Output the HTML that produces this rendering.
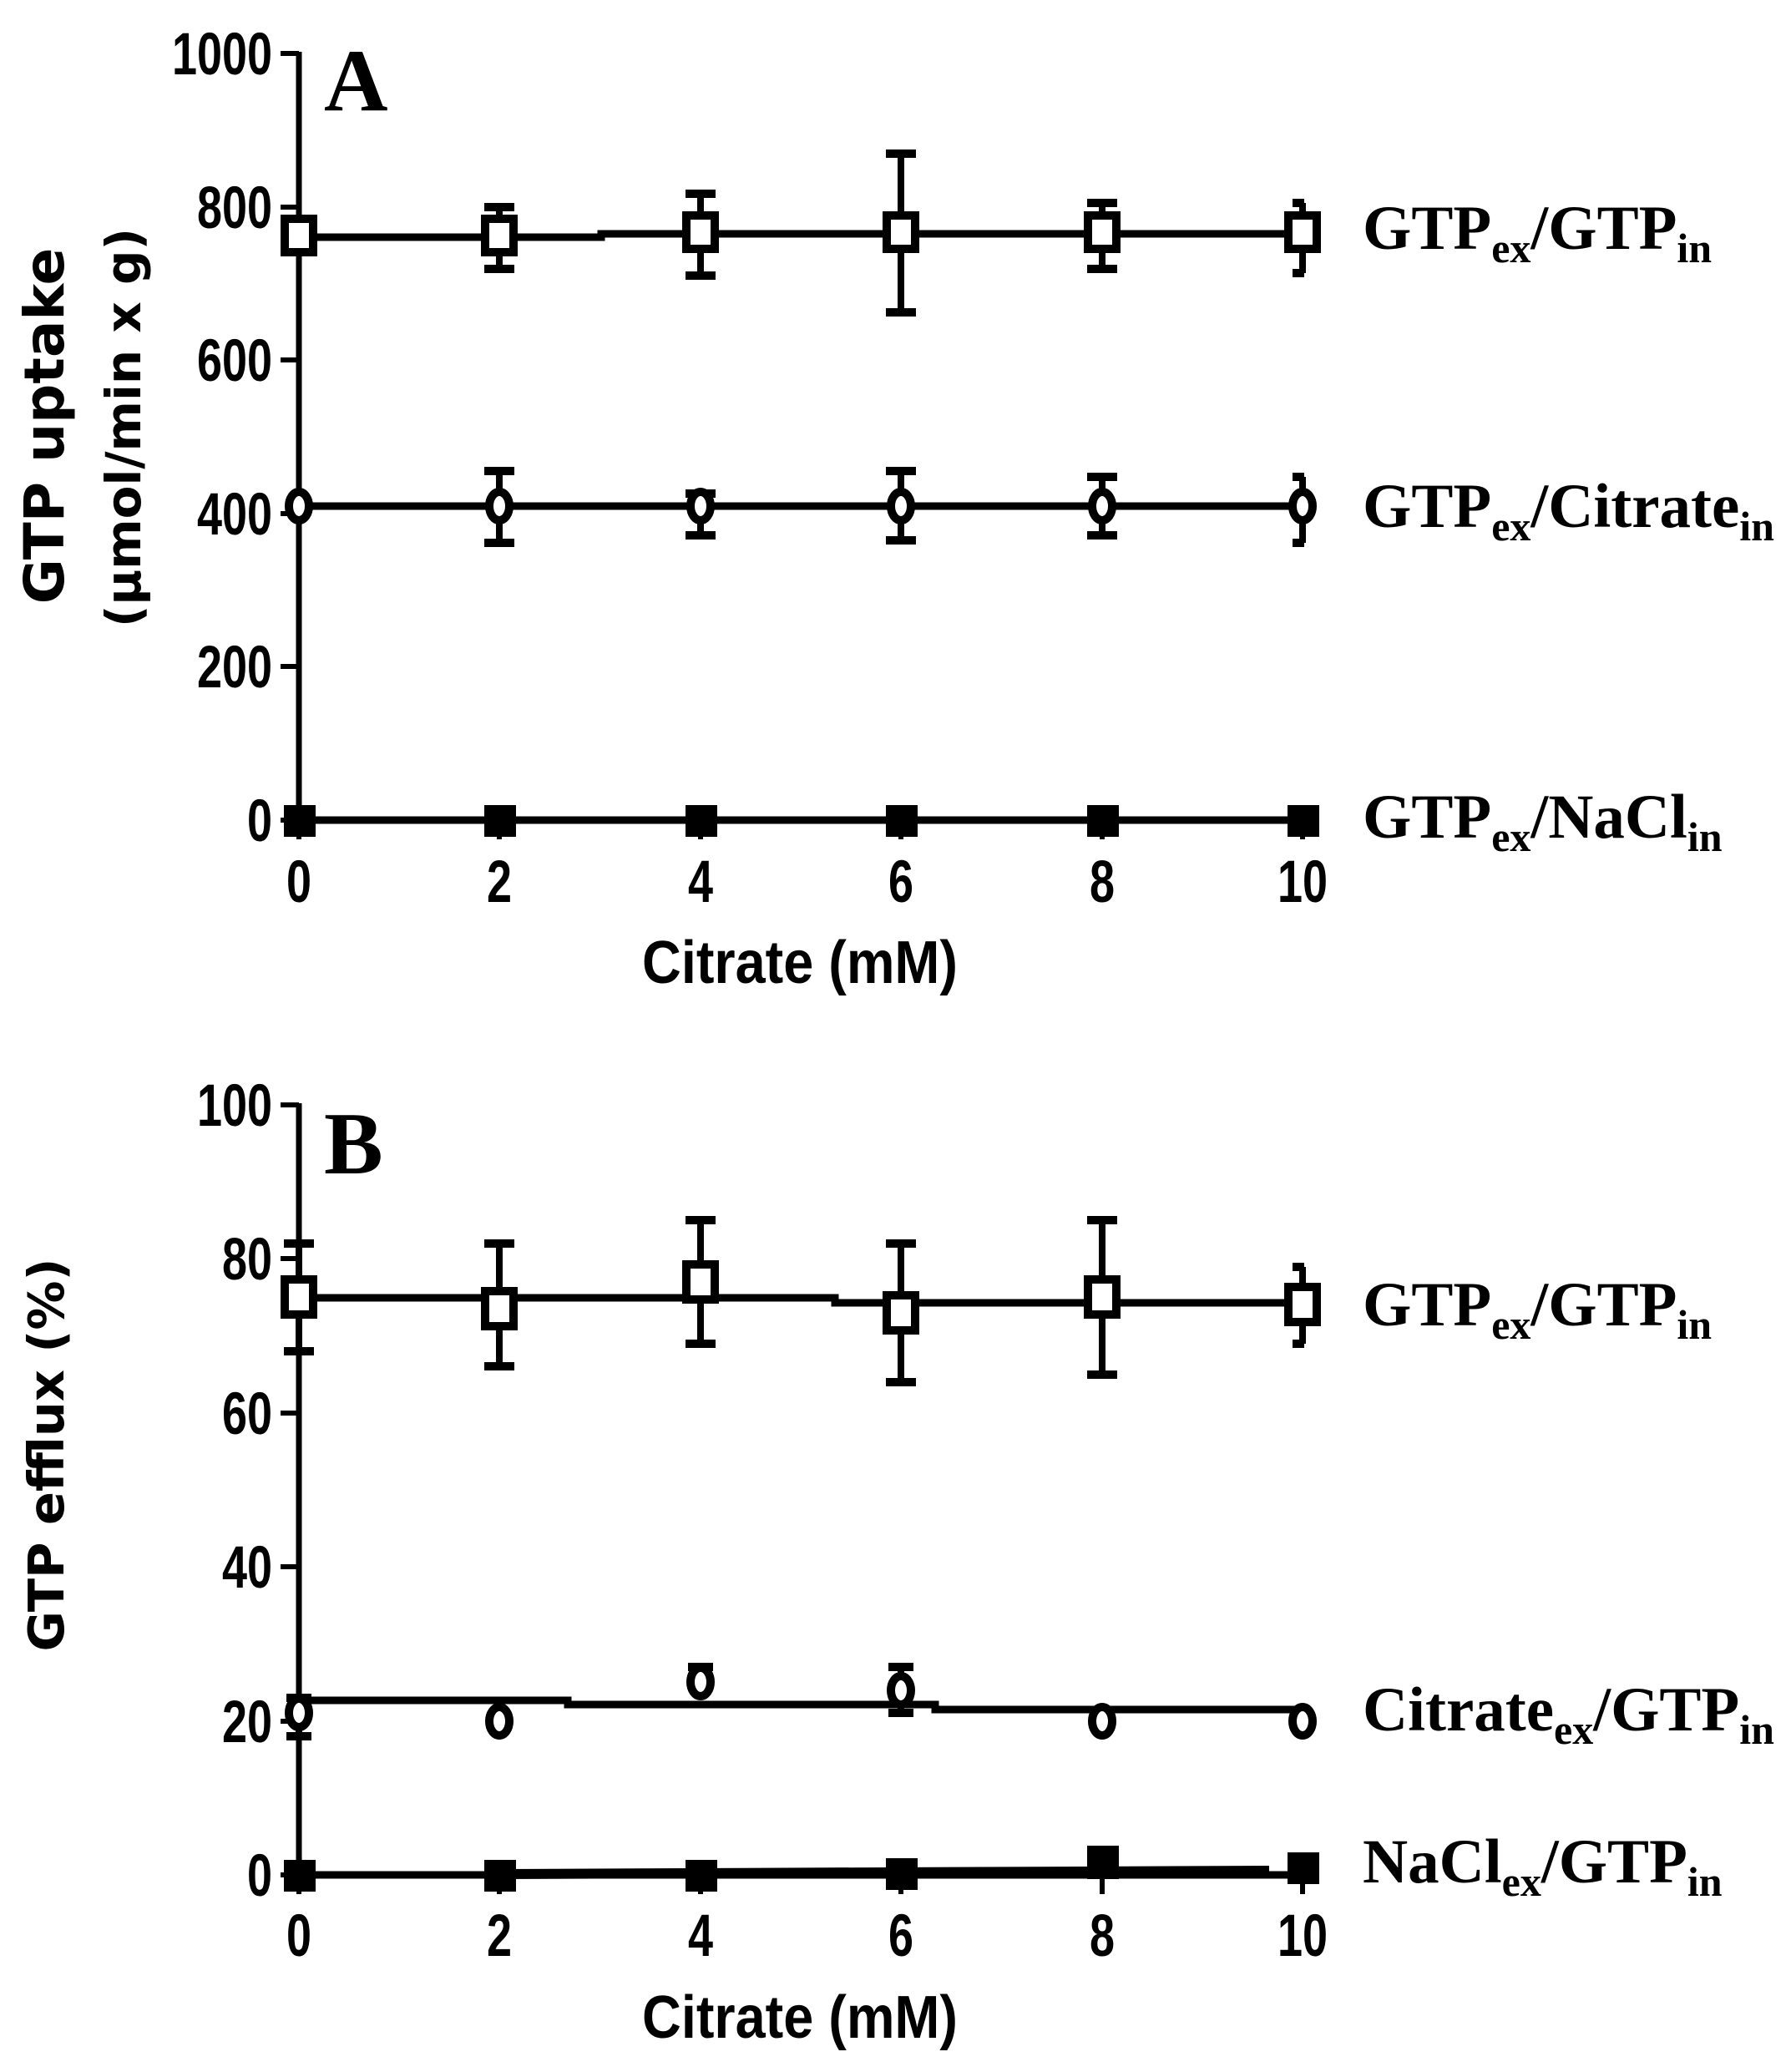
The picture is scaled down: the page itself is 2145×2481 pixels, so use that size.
<!DOCTYPE html>
<html><head><meta charset="utf-8"><style>
html,body{margin:0;padding:0;background:#fff;}
svg{display:block;}
.tk{font-family:"Liberation Sans",Arial,sans-serif;font-weight:bold;font-size:71px;fill:#000;}
.lg{font-family:"Liberation Serif","Times New Roman",serif;font-weight:bold;font-size:75px;fill:#000;}
.sb{font-size:50px;}
</style></head><body>
<svg width="2145" height="2481" viewBox="0 0 2145 2481" xmlns="http://www.w3.org/2000/svg">
<g stroke="#000" fill="none">
<line x1="358" y1="62" x2="358" y2="1000" stroke-width="7"/>
<g stroke-width="6">
<line x1="336" y1="64" x2="358" y2="64"/><line x1="336" y1="248" x2="358" y2="248"/>
<line x1="336" y1="431" x2="358" y2="431"/><line x1="336" y1="615" x2="358" y2="615"/>
<line x1="336" y1="798" x2="358" y2="798"/><line x1="336" y1="982" x2="358" y2="982"/>
<line x1="358" y1="982" x2="358" y2="1005"/><line x1="598" y1="982" x2="598" y2="1005"/>
<line x1="839" y1="982" x2="839" y2="1005"/><line x1="1079" y1="982" x2="1079" y2="1005"/>
<line x1="1320" y1="982" x2="1320" y2="1005"/><line x1="1560" y1="982" x2="1560" y2="1005"/>
</g>
<g stroke-width="9">
<polyline points="358,284 720,284 720,280 1560,280"/>
<line x1="358" y1="606" x2="1560" y2="606"/>
<line x1="358" y1="982" x2="1560" y2="982"/>
</g>
<g stroke-width="8">
<line x1="598" y1="248" x2="598" y2="322"/><line x1="839" y1="232" x2="839" y2="330"/>
<line x1="1079" y1="184" x2="1079" y2="374"/><line x1="1320" y1="243" x2="1320" y2="322"/>
<line x1="1560" y1="243" x2="1560" y2="327"/>
<line x1="598" y1="564" x2="598" y2="650"/><line x1="839" y1="591" x2="839" y2="641"/>
<line x1="1079" y1="564" x2="1079" y2="647"/><line x1="1320" y1="571" x2="1320" y2="641"/>
<line x1="1560" y1="571" x2="1560" y2="650"/>
</g>
<g stroke-width="10">
<path d="M580 248h36M580 322h36M821 232h36M821 330h36M1061 184h36M1061 374h36M1302 243h36M1302 322h36M1548 243h14M1548 327h14"/>
<path d="M580 564h36M580 650h36M821 591h36M821 641h36M1061 564h36M1061 647h36M1302 571h36M1302 641h36M1548 571h14M1548 650h14"/>
</g>
<g stroke-width="10" fill="#fff">
<rect x="341" y="262" width="34" height="40"/><rect x="581" y="262" width="34" height="40"/>
<rect x="822" y="258" width="34" height="40"/><rect x="1062" y="258" width="34" height="40"/>
<rect x="1303" y="258" width="34" height="40"/><rect x="1543" y="258" width="34" height="40"/>
<ellipse cx="358" cy="606" rx="12" ry="17"/><ellipse cx="598" cy="606" rx="12" ry="17"/>
<ellipse cx="839" cy="606" rx="12" ry="17"/><ellipse cx="1079" cy="606" rx="12" ry="17"/>
<ellipse cx="1320" cy="606" rx="12" ry="17"/><ellipse cx="1560" cy="606" rx="12" ry="17"/>
</g>
<g fill="#000" stroke="none">
<rect x="340" y="964" width="38" height="38"/><rect x="580" y="964" width="38" height="38"/>
<rect x="821" y="964" width="38" height="38"/><rect x="1061" y="964" width="38" height="38"/>
<rect x="1302" y="964" width="38" height="38"/><rect x="1542" y="964" width="38" height="38"/>
</g>

<line x1="358" y1="1321" x2="358" y2="2265" stroke-width="7"/>
<g stroke-width="6">
<line x1="336" y1="1323" x2="358" y2="1323"/><line x1="336" y1="1507" x2="358" y2="1507"/>
<line x1="336" y1="1692" x2="358" y2="1692"/><line x1="336" y1="1876" x2="358" y2="1876"/>
<line x1="336" y1="2061" x2="358" y2="2061"/><line x1="336" y1="2245" x2="358" y2="2245"/>
<line x1="358" y1="2245" x2="358" y2="2268"/><line x1="598" y1="2245" x2="598" y2="2268"/>
<line x1="839" y1="2245" x2="839" y2="2268"/><line x1="1079" y1="2245" x2="1079" y2="2268"/>
<line x1="1320" y1="2245" x2="1320" y2="2268"/><line x1="1560" y1="2245" x2="1560" y2="2268"/>
</g>
<g stroke-width="9">
<polyline points="358,1554 1000,1554 1000,1560 1560,1560"/>
<polyline points="358,2036 680,2036 680,2041 1120,2041 1120,2047 1560,2047"/>
<line x1="358" y1="2245" x2="1560" y2="2245"/>
</g>
<polyline points="600,2244 1520,2240" stroke-width="12"/>
<g stroke-width="8">
<line x1="358" y1="1489" x2="358" y2="1618"/><line x1="598" y1="1489" x2="598" y2="1636"/>
<line x1="839" y1="1461" x2="839" y2="1609"/><line x1="1079" y1="1489" x2="1079" y2="1655"/>
<line x1="1320" y1="1461" x2="1320" y2="1646"/><line x1="1560" y1="1517" x2="1560" y2="1609"/>
<line x1="358" y1="2033" x2="358" y2="2079"/><line x1="839" y1="1996" x2="839" y2="2033"/>
<line x1="1079" y1="1996" x2="1079" y2="2051"/><line x1="1320" y1="2217" x2="1320" y2="2245"/>
</g>
<g stroke-width="10">
<path d="M340 1489h36M340 1618h36M580 1489h36M580 1636h36M821 1461h36M821 1609h36M1061 1489h36M1061 1655h36M1302 1461h36M1302 1646h36M1548 1517h14M1548 1609h14"/>
<path d="M343 2033h30M343 2079h30M824 1996h30M1064 1996h30M1064 2051h30"/>
</g>
<g stroke-width="10" fill="#fff">
<rect x="341" y="1532" width="34" height="42"/><rect x="581" y="1546" width="34" height="42"/>
<rect x="822" y="1514" width="34" height="42"/><rect x="1062" y="1551" width="34" height="42"/>
<rect x="1303" y="1532" width="34" height="42"/><rect x="1543" y="1541" width="34" height="42"/>
<ellipse cx="358" cy="2051" rx="12" ry="17"/><ellipse cx="598" cy="2061" rx="12" ry="17"/>
<ellipse cx="839" cy="2014" rx="12" ry="17"/><ellipse cx="1079" cy="2024" rx="12" ry="17"/>
<ellipse cx="1320" cy="2061" rx="12" ry="17"/><ellipse cx="1560" cy="2061" rx="12" ry="17"/>
</g>
<g fill="#000" stroke="none">
<rect x="340" y="2227" width="38" height="38"/><rect x="580" y="2227" width="38" height="38"/>
<rect x="821" y="2227" width="38" height="38"/><rect x="1061" y="2225" width="38" height="38"/>
<rect x="1302" y="2210" width="38" height="40"/><rect x="1542" y="2218" width="38" height="38"/>
</g>
</g>

<g class="tk" text-anchor="end">
<text transform="translate(326,89) scale(0.76,1)">1000</text>
<text transform="translate(326,273) scale(0.76,1)">800</text>
<text transform="translate(326,456) scale(0.76,1)">600</text>
<text transform="translate(326,640) scale(0.76,1)">400</text>
<text transform="translate(326,823) scale(0.76,1)">200</text>
<text transform="translate(326,1007) scale(0.76,1)">0</text>
<text transform="translate(326,1348) scale(0.76,1)">100</text>
<text transform="translate(326,1532) scale(0.76,1)">80</text>
<text transform="translate(326,1717) scale(0.76,1)">60</text>
<text transform="translate(326,1901) scale(0.76,1)">40</text>
<text transform="translate(326,2086) scale(0.76,1)">20</text>
<text transform="translate(326,2270) scale(0.76,1)">0</text>
</g>
<g class="tk" text-anchor="middle">
<text transform="translate(358,1080) scale(0.76,1)">0</text>
<text transform="translate(598,1080) scale(0.76,1)">2</text>
<text transform="translate(839,1080) scale(0.76,1)">4</text>
<text transform="translate(1079,1080) scale(0.76,1)">6</text>
<text transform="translate(1320,1080) scale(0.76,1)">8</text>
<text transform="translate(1560,1080) scale(0.76,1)">10</text>
<text transform="translate(358,2342) scale(0.76,1)">0</text>
<text transform="translate(598,2342) scale(0.76,1)">2</text>
<text transform="translate(839,2342) scale(0.76,1)">4</text>
<text transform="translate(1079,2342) scale(0.76,1)">6</text>
<text transform="translate(1320,2342) scale(0.76,1)">8</text>
<text transform="translate(1560,2342) scale(0.76,1)">10</text>
<text transform="translate(958,1177) scale(0.9,1)" style="font-size:72px">Citrate (mM)</text>
<text transform="translate(958,2440) scale(0.9,1)" style="font-size:72px">Citrate (mM)</text>
</g>
<g font-family="'DejaVu Sans',sans-serif" font-weight="bold" text-anchor="middle" fill="#000">
<text transform="translate(76,510) rotate(-90)" font-size="66">GTP uptake</text>
<text transform="translate(168,512) rotate(-90)" font-size="58">(μmol/min x g)</text>
<text transform="translate(76,1742) rotate(-90)" font-size="59">GTP efflux (%)</text>
</g>
<text x="388" y="132" class="lg" style="font-size:106px">A</text>
<text x="388" y="1405" class="lg" style="font-size:106px">B</text>
<g class="lg">
<text x="1632" y="298">GTP<tspan class="sb" dy="16">ex</tspan><tspan dy="-16">/GTP</tspan><tspan class="sb" dy="16">in</tspan></text>
<text x="1632" y="631">GTP<tspan class="sb" dy="16">ex</tspan><tspan dy="-16">/Citrate</tspan><tspan class="sb" dy="16">in</tspan></text>
<text x="1632" y="1003">GTP<tspan class="sb" dy="16">ex</tspan><tspan dy="-16">/NaCl</tspan><tspan class="sb" dy="16">in</tspan></text>
<text x="1632" y="1587">GTP<tspan class="sb" dy="16">ex</tspan><tspan dy="-16">/GTP</tspan><tspan class="sb" dy="16">in</tspan></text>
<text x="1632" y="2072">Citrate<tspan class="sb" dy="16">ex</tspan><tspan dy="-16">/GTP</tspan><tspan class="sb" dy="16">in</tspan></text>
<text x="1632" y="2254">NaCl<tspan class="sb" dy="16">ex</tspan><tspan dy="-16">/GTP</tspan><tspan class="sb" dy="16">in</tspan></text>
</g>
</svg>
</body></html>
